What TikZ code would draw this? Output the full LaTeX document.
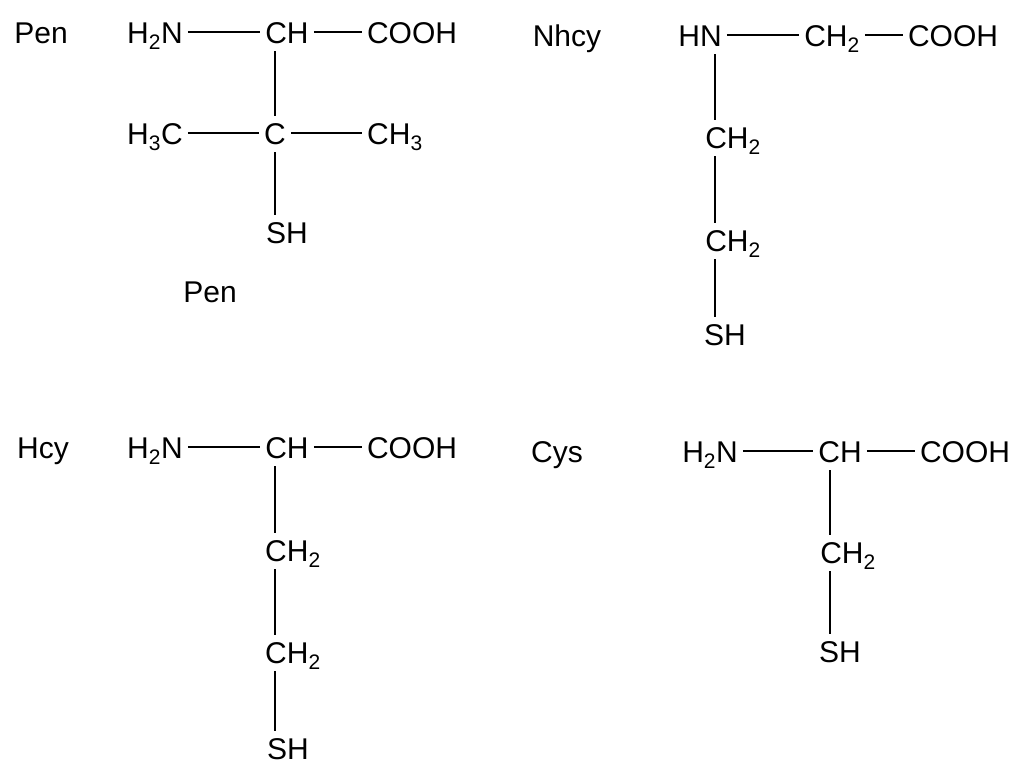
\documentclass[tikz,border=0pt]{standalone}
\usepackage{fontspec}
\setmainfont{Liberation Sans}
\begin{document}
\begin{tikzpicture}[x=1pt,y=-1pt,
  g/.style={font=\fontsize{30}{36}\selectfont,text height=22pt,text depth=0pt,inner sep=5pt},
  b/.style={line width=1.3pt},
  v/.style={line width=1.3pt,shorten <=19pt,shorten >=17pt}]
\useasboundingbox (0,0) rectangle (1018,782);
% Pen
\node[g] (lpen) at (41,32) {Pen};
\node[g] (p1) at (155,32) {H\textsubscript{2}N};
\node[g] (p2) at (287,32) {CH};
\node[g] (p3) at (412,32) {COOH};
\node[g] (p4) at (155,133) {H\textsubscript{3}C};
\node[g] (p5) at (275,133) {C};
\node[g] (p6) at (395,133) {CH\textsubscript{3}};
\node[g] (p7) at (287,232) {SH};
\node[g] (lpen2) at (210,291) {Pen};
\coordinate (vp) at (275,0);
\draw[b] (p1.east) -- (p2.west);
\draw[b] (p2.east) -- (p3.west);
\draw[b] (p4.east) -- (p5.west);
\draw[b] (p5.east) -- (p6.west);
\draw[v] (p2.center -| vp) -- (p5.center -| vp);
\draw[v] (p5.center -| vp) -- (p7.center -| vp);
% Nhcy
\node[g] (lnh) at (567,35) {Nhcy};
\node[g] (n1) at (700,35) {HN};
\node[g] (n2) at (832,35) {CH\textsubscript{2}};
\node[g] (n3) at (953,35) {COOH};
\node[g] (n4) at (733,137) {CH\textsubscript{2}};
\node[g] (n5) at (733,240) {CH\textsubscript{2}};
\node[g] (n6) at (725,334) {SH};
\coordinate (vn) at (715,0);
\draw[b] (n1.east) -- (n2.west);
\draw[b] (n2.east) -- (n3.west);
\draw[v] (n1.center -| vn) -- (n4.center -| vn);
\draw[v] (n4.center -| vn) -- (n5.center -| vn);
\draw[v] (n5.center -| vn) -- (n6.center -| vn);
% Hcy
\node[g] (lh) at (43,447) {Hcy};
\node[g] (h1) at (155,447) {H\textsubscript{2}N};
\node[g] (h2) at (287,447) {CH};
\node[g] (h3) at (412,447) {COOH};
\node[g] (h4) at (293,550) {CH\textsubscript{2}};
\node[g] (h5) at (293,652) {CH\textsubscript{2}};
\node[g] (h6) at (288,748) {SH};
\draw[b] (h1.east) -- (h2.west);
\draw[b] (h2.east) -- (h3.west);
\draw[v] (h2.center -| vp) -- (h4.center -| vp);
\draw[v] (h4.center -| vp) -- (h5.center -| vp);
\draw[v] (h5.center -| vp) -- (h6.center -| vp);
% Cys
\node[g] (lc) at (557,451) {Cys};
\node[g] (c1) at (710,451) {H\textsubscript{2}N};
\node[g] (c2) at (840,451) {CH};
\node[g] (c3) at (965,451) {COOH};
\node[g] (c4) at (848,552) {CH\textsubscript{2}};
\node[g] (c5) at (840,651) {SH};
\coordinate (vc) at (830,0);
\draw[b] (c1.east) -- (c2.west);
\draw[b] (c2.east) -- (c3.west);
\draw[v] (c2.center -| vc) -- (c4.center -| vc);
\draw[v] (c4.center -| vc) -- (c5.center -| vc);
\end{tikzpicture}
\end{document}
